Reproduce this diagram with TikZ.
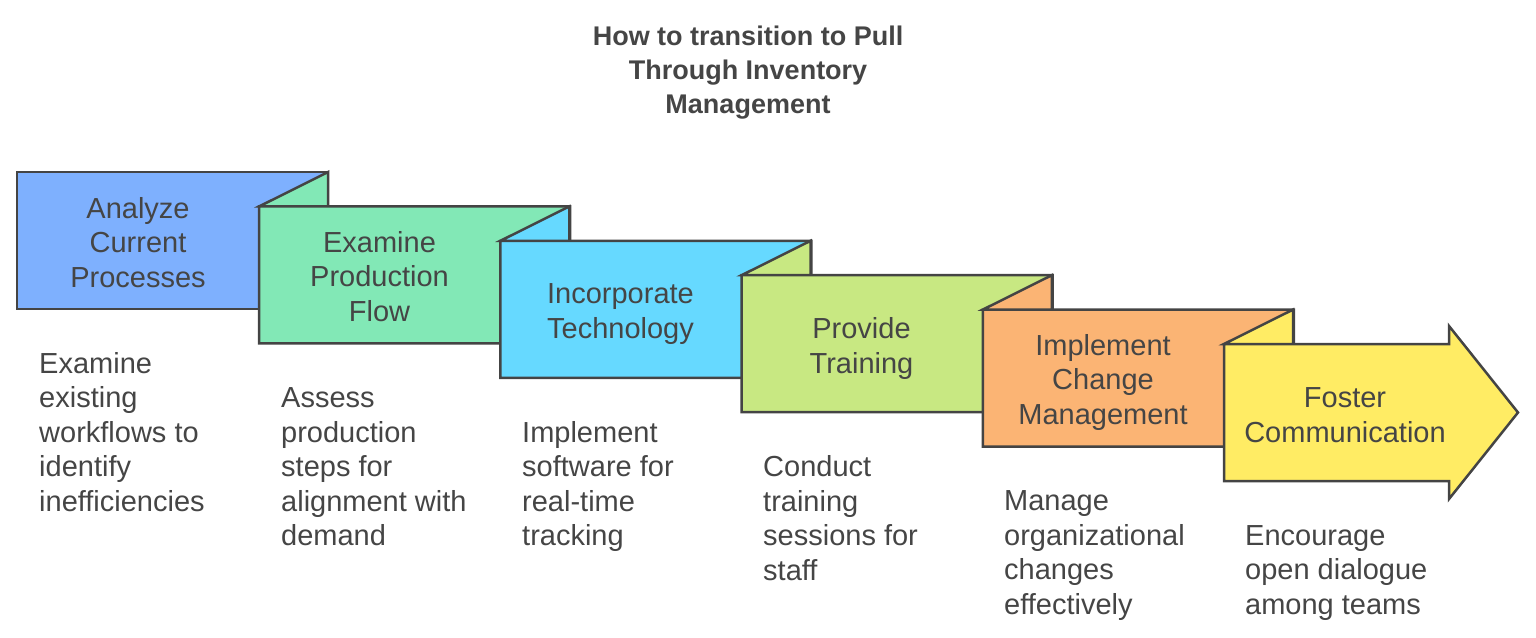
\documentclass[tikz,border=0pt]{standalone}
\usepackage{fontspec}
\setmainfont{Liberation Sans}
\definecolor{ink}{HTML}{444444}
\definecolor{txt}{HTML}{454545}
\definecolor{cA}{HTML}{7EB0FE}
\definecolor{cB}{HTML}{82E8B6}
\definecolor{cC}{HTML}{66D9FF}
\definecolor{cD}{HTML}{C8E882}
\definecolor{cE}{HTML}{FBB474}
\definecolor{cF}{HTML}{FFEC64}
\tikzset{
  stepshape/.style={draw=ink, line width=2.5pt, line join=miter},
  boxtext/.style={font=\fontsize{29}{34.5}\selectfont, text=txt, align=center, inner sep=0pt},
  desctext/.style={font=\fontsize{29}{34.5}\selectfont, text=txt, align=left, inner sep=0pt, anchor=north west},
  titletext/.style={font=\fontsize{27}{34}\selectfont\bfseries, text=txt, align=center, inner sep=0pt}
}
\begin{document}
\begin{tikzpicture}[x=1pt,y=-1pt]
\useasboundingbox (0,0) rectangle (1536,637);
% title
\node[titletext] (title) at (748,73) {\strut How to transition to Pull\\\strut Through Inventory\\\strut Management};
% box 1
\path[stepshape, fill=cA] (17,172) rectangle (328,309);
% box 2
\path[stepshape, fill=cB] (259.2,206.4) rectangle (570.2,343.4)
  (259.2,206.4) -- (328.2,172) -- (328.2,206.4) -- cycle;
% box 3
\path[stepshape, fill=cC] (500.4,240.8) rectangle (811.4,377.8)
  (500.4,240.8) -- (569.4,206.4) -- (569.4,240.8) -- cycle;
% box 4
\path[stepshape, fill=cD] (741.6,275.2) rectangle (1052.6,412.2)
  (741.6,275.2) -- (810.6,240.8) -- (810.6,275.2) -- cycle;
% box 5
\path[stepshape, fill=cE] (982.8,309.6) rectangle (1293.8,446.6)
  (982.8,309.6) -- (1051.8,275.2) -- (1051.8,309.6) -- cycle;
% box 6 arrow
\path[stepshape, fill=cF] (1224,481) -- (1224,344) -- (1449,344) -- (1449,326) -- (1518,412.5) -- (1449,499) -- (1449,481) -- cycle
  (1224,344) -- (1293,309.6) -- (1293,344) -- cycle;
% box labels
\node[boxtext] (t1) at (138,246) {\strut Analyze\\\strut Current\\\strut Processes};
\node[boxtext] (t2) at (379.5,280) {\strut Examine\\\strut Production\\\strut Flow};
\node[boxtext] (t3) at (620.5,314) {\strut Incorporate\\\strut Technology};
\node[boxtext] (t4) at (861.5,349) {\strut Provide\\\strut Training};
\node[boxtext] (t5) at (1103,383) {\strut Implement\\\strut Change\\\strut Management};
\node[boxtext] (t6) at (1345,418) {\strut Foster\\\strut Communication};
% descriptions
\node[desctext] (d1) at (39,349) {\strut Examine\\\strut existing\\\strut workflows to\\\strut identify\\\strut inefficiencies};
\node[desctext] (d2) at (281,383.4) {\strut Assess\\\strut production\\\strut steps for\\\strut alignment with\\\strut demand};
\node[desctext] (d3) at (522,417.8) {\strut Implement\\\strut software for\\\strut real-time\\\strut tracking};
\node[desctext] (d4) at (763,452.2) {\strut Conduct\\\strut training\\\strut sessions for\\\strut staff};
\node[desctext] (d5) at (1004,486.6) {\strut Manage\\\strut organizational\\\strut changes\\\strut effectively};
\node[desctext] (d6) at (1245,521) {\strut Encourage\\\strut open dialogue\\\strut among teams};
\end{tikzpicture}
\end{document}
